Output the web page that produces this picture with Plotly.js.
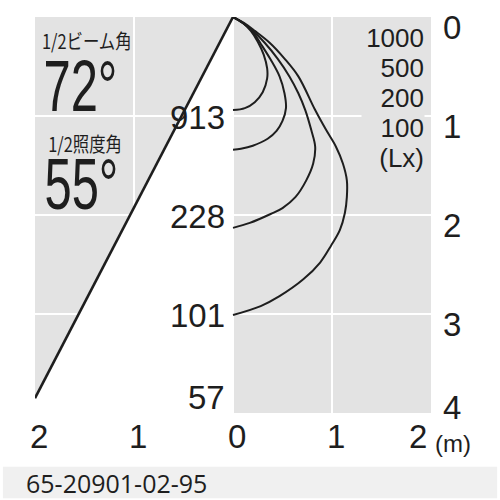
<!DOCTYPE html>
<html>
<head>
<meta charset="utf-8">
<script src="https://cdn.plot.ly/plotly-3.0.1.min.js"></script>
<style>html,body{margin:0;padding:0;background:#fff;}#chart{width:500px;height:500px;}</style>
</head>
<body>
<div id="chart"></div>
<script>
// ---- data ----
const luxLevels = ['1000', '500', '200', '100'];
const luxUnit = '(Lx)';
// isolux curves (x in m to the right of axis, y = depth in m)
const x1000 = [0, 0.10, 0.18, 0.25, 0.31, 0.345, 0.345, 0.30, 0.22, 0.12, 0];
const y1000 = [0, 0.06, 0.14, 0.25, 0.38, 0.52, 0.62, 0.76, 0.86, 0.92, 0.94];
const x500 = [0, 0.10, 0.20, 0.28, 0.38, 0.47, 0.52, 0.535, 0.50, 0.44, 0.35, 0.20, 0.08, 0];
const y500 = [0, 0.06, 0.15, 0.27, 0.43, 0.60, 0.77, 0.92, 1.05, 1.15, 1.23, 1.30, 1.33, 1.34];
const x200 = [0, 0.10, 0.20, 0.32, 0.45, 0.57, 0.66, 0.73, 0.79, 0.83, 0.81, 0.74, 0.63, 0.50, 0.38, 0.17, 0];
const y200 = [0, 0.06, 0.14, 0.26, 0.42, 0.60, 0.77, 0.94, 1.14, 1.31, 1.48, 1.65, 1.82, 1.93, 1.99, 2.08, 2.13];
const x100 = [0, 0.11, 0.22, 0.37, 0.52, 0.66, 0.83, 0.94, 1.04, 1.11, 1.15, 1.15, 1.13, 1.08, 0.99, 0.88, 0.71, 0.47, 0.28, 0];
const y100 = [0, 0.06, 0.14, 0.26, 0.42, 0.60, 0.94, 1.14, 1.31, 1.48, 1.65, 1.82, 1.98, 2.15, 2.31, 2.48, 2.65, 2.82, 2.92, 3.01];
// beam edge line
const beamX = [0, -2];
const beamY = [0, 3.85];
// centre illuminance at depth
const centreDepths = [1, 2, 3, 4];
const centreLux = ['913', '228', '101', '57'];
// axis tick labels
const xTickVals = [-2, -1, 0, 1, 2];
const xTickText = ['2', '1', '0', '1', '2'];
const yTickVals = [0, 1, 2, 3, 4];
const yTickText = ['0', '1', '2', '3', '4'];
// angle info
const beamAngleLabel = '1/2ビーム角';
const beamAngle = '72°';
const illumAngleLabel = '1/2照度角';
const illumAngle = '55°';
const modelCode = '65-20901-02-95';

// ---- styles ----
const GREY = '#e3e3e3';
const INK = '#1e1e1e';
const NUM_FONT = 'Liberation Sans, Arial, sans-serif';
const JP_FONT = '"Noto Sans CJK JP", sans-serif';

const curves = [[x1000, y1000], [x500, y500], [x200, y200], [x100, y100]];
const traces = [];
// white region inside the beam (left of axis)
traces.push({
  x: beamX.concat([beamX[1], beamX[0]]),
  y: beamY.concat([4, 4]),
  mode: 'none', fill: 'toself', fillcolor: '#ffffff',
  hoverinfo: 'skip', showlegend: false
});
curves.forEach(function (c) {
  traces.push({
    x: c[0], y: c[1], mode: 'lines',
    line: {color: INK, width: 2, shape: 'spline', smoothing: 1},
    hoverinfo: 'skip', showlegend: false
  });
});
traces.push({
  x: beamX, y: beamY, mode: 'lines',
  line: {color: INK, width: 2.6},
  hoverinfo: 'skip', showlegend: false
});

const ann = [];
// x tick labels
xTickVals.forEach(function (v, i) {
  ann.push({xref: 'x', yref: 'paper', x: v, y: 0, text: xTickText[i],
    showarrow: false, xanchor: 'center', yanchor: 'middle',
    xshift: (i === xTickVals.length - 1) ? -13 : 4, yshift: -23,
    font: {family: NUM_FONT, size: 33, color: INK}});
});
ann.push({xref: 'paper', yref: 'paper', x: 1, y: 0, text: '(m)', showarrow: false,
  xanchor: 'center', yanchor: 'middle', xshift: 22, yshift: -30,
  font: {family: NUM_FONT, size: 24, color: INK}});
// y tick labels on the right
yTickVals.forEach(function (v, i) {
  ann.push({xref: 'paper', yref: 'y', x: 1, y: v, text: yTickText[i],
    showarrow: false, xanchor: 'center', yanchor: 'middle',
    xshift: 21, yshift: (i === yTickVals.length - 1) ? 6 : -10,
    font: {family: NUM_FONT, size: 33, color: INK}});
});
// centre illuminance labels
centreDepths.forEach(function (d, i) {
  ann.push({xref: 'x', yref: 'y', x: 0, y: d, text: centreLux[i],
    showarrow: false, xanchor: 'right', yanchor: 'middle',
    xshift: -6, yshift: (i === centreDepths.length - 1) ? 16 : -1,
    font: {family: NUM_FONT, size: 33, color: INK}});
});
// lux legend (right)
luxLevels.concat([luxUnit]).forEach(function (t, i) {
  ann.push({xref: 'paper', yref: 'paper', x: 1, y: 1, text: t,
    showarrow: false, xanchor: 'right', yanchor: 'middle', align: 'right',
    width: 62, bgcolor: GREY, borderpad: 0,
    xshift: -6, yshift: -21 - i * 30,
    font: {family: NUM_FONT, size: 26, color: INK}});
});
// angle block (left) - condensed afterwards
ann.push({xref: 'paper', yref: 'paper', x: 0, y: 1, text: beamAngleLabel, showarrow: false,
  xanchor: 'center', yanchor: 'middle', xshift: 51, yshift: -23,
  font: {family: JP_FONT, size: 20, color: INK}});
ann.push({xref: 'paper', yref: 'paper', x: 0, y: 1, text: beamAngle, showarrow: false,
  xanchor: 'center', yanchor: 'middle', xshift: 45, yshift: -69,
  font: {family: NUM_FONT, size: 72, color: INK}});
ann.push({xref: 'paper', yref: 'paper', x: 0, y: 1, text: illumAngleLabel, showarrow: false,
  xanchor: 'center', yanchor: 'middle', xshift: 50, yshift: -126,
  font: {family: JP_FONT, size: 20, color: INK}});
ann.push({xref: 'paper', yref: 'paper', x: 0, y: 1, text: illumAngle, showarrow: false,
  xanchor: 'center', yanchor: 'middle', xshift: 46, yshift: -167,
  font: {family: NUM_FONT, size: 72, color: INK}});
// model code
ann.push({xref: 'paper', yref: 'paper', x: 0, y: 0, text: modelCode, showarrow: false,
  xanchor: 'left', yanchor: 'middle', xshift: -10, yshift: -70, borderpad: 0,
  font: {family: '"Open Sans", "Noto Sans", sans-serif', size: 25, color: INK}});

const layout = {
  width: 500, height: 500,
  margin: {l: 35, r: 69, t: 17, b: 87},
  paper_bgcolor: '#ffffff', plot_bgcolor: GREY,
  showlegend: false,
  xaxis: {range: [-2, 2], tickvals: [-1, 0, 1], showticklabels: false, ticks: '',
    showgrid: true, gridcolor: '#ffffff', gridwidth: 2, zeroline: false, showline: false,
    fixedrange: true},
  yaxis: {range: [4, 0], tickvals: [1, 2, 3], showticklabels: false, ticks: '',
    showgrid: true, gridcolor: '#ffffff', gridwidth: 2, zeroline: false, showline: false,
    fixedrange: true},
  shapes: [
    {type: 'rect', xref: 'paper', yref: 'paper', x0: -0.081, x1: 1.167, y0: -0.215, y1: -0.136,
     fillcolor: '#f0f0f0', line: {width: 0}, layer: 'below'}
  ],
  annotations: ann
};

// condensed type for the angle block (the reference uses a condensed face)
function condense(gd) {
  const texts = gd.querySelectorAll('.annotation-text');
  texts.forEach(function (el) {
    const t = el.textContent;
    let s = 0;
    if (t === beamAngle || t === illumAngle) s = 0.68;
    if (t === beamAngleLabel || t === illumAngleLabel) s = 0.82;
    if (!s) return;
    const bb = el.getBBox();
    const cx = bb.x + bb.width / 2;
    const prev = el.getAttribute('transform') || '';
    el.setAttribute('transform', 'translate(' + (cx * (1 - s)) + ',0) scale(' + s + ',1) ' + prev);
  });
}

Plotly.newPlot('chart', traces, layout, {staticPlot: true, displayModeBar: false})
  .then(function (gd) { condense(gd); });
</script>
</body>
</html>
